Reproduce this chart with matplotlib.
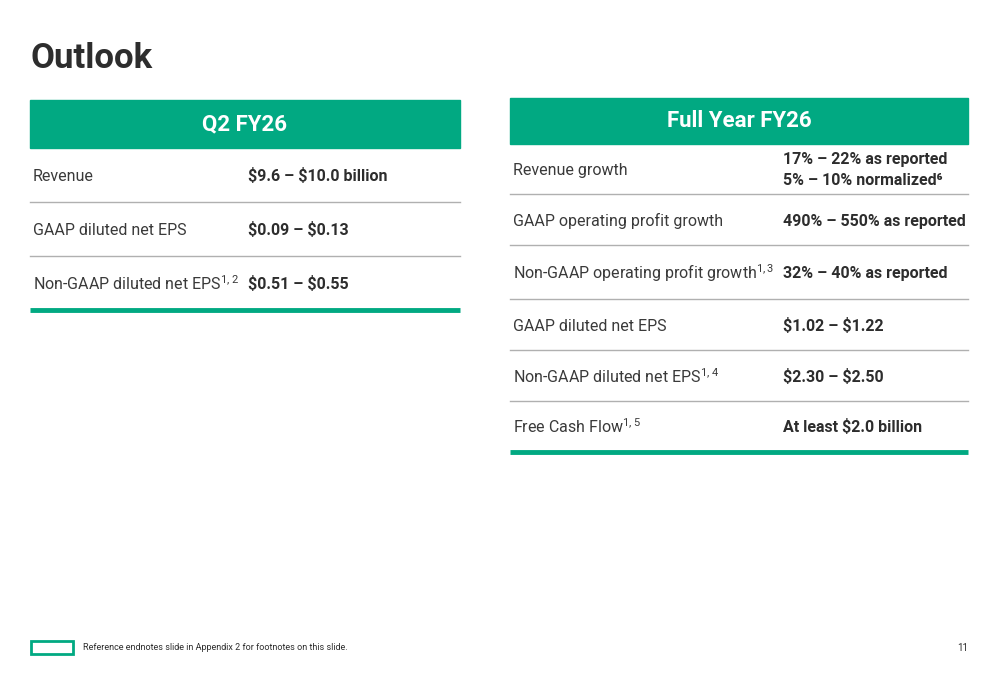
import matplotlib.pyplot as plt
from matplotlib.patches import Rectangle

plt.rcParams['font.family'] = ['Roboto', 'DejaVu Sans']

GREEN = '#01a982'
DARK = '#2d2d2d'
GRAY = '#b0b0b0'

q2_labels = ['Revenue', 'GAAP diluted net EPS', r'Non-GAAP diluted net EPS$^{\mathregular{1,2}}$']
q2_values = ['$9.6 – $10.0 billion', '$0.09 – $0.13', '$0.51 – $0.55']

fy_labels = ['Revenue growth', 'GAAP operating profit growth',
             r'Non-GAAP operating profit growth$^{\mathregular{1,3}}$', 'GAAP diluted net EPS',
             r'Non-GAAP diluted net EPS$^{\mathregular{1,4}}$', r'Free Cash Flow$^{\mathregular{1,5}}$']
fy_values = ['17% – 22% as reported\n5% – 10% normalized⁶', '490% – 550% as reported',
             '32% – 40% as reported', '$1.02 – $1.22', '$2.30 – $2.50', 'At least $2.0 billion']

fig = plt.figure(figsize=(10, 6.85), dpi=100)
ax = fig.add_axes([0, 0, 1, 1])
ax.set_xlim(0, 1000)
ax.set_ylim(685, 0)
ax.axis('off')

ax.text(30, 58, 'Outlook', fontsize=25, fontweight='bold', color=DARK, va='center', ha='left')


def table(x0, x1, top, head_h, title, labels, values, row_ys, line_ys, vx):
    ax.add_patch(Rectangle((x0, top), x1 - x0, head_h, color=GREEN))
    ax.text((x0 + x1) / 2, top + head_h / 2, title, color='white', fontsize=16,
            fontweight='bold', ha='center', va='center')
    for lab, val, y in zip(labels, values, row_ys):
        ax.text(x0 + 3, y, lab, fontsize=11.5, color='#3a3a3a', va='center', ha='left')
        ax.text(vx, y, val, fontsize=11.5, color=DARK, va='center', ha='left', fontweight='bold',
                linespacing=1.5, parse_math=False)
    for y in line_ys[:-1]:
        ax.plot([x0, x1], [y, y], color=GRAY, lw=1)
    ax.plot([x0, x1], [line_ys[-1]] * 2, color=GREEN, lw=3.5, solid_capstyle='butt')


table(30, 460, 100, 48, 'Q2 FY26', q2_labels, q2_values,
      [176, 230, 284], [202, 256, 310], 248)
table(510, 968, 98, 46, 'Full Year FY26', fy_labels, fy_values,
      [170, 221, 273, 326, 377, 427], [194, 245, 299, 350, 401, 452], 783)

ax.add_patch(Rectangle((31, 641), 42, 13, fill=False, edgecolor=GREEN, lw=2))
ax.text(83, 648, 'Reference endnotes slide in Appendix 2 for footnotes on this slide.',
        fontsize=6.5, color=DARK, va='center', ha='left')
ax.text(968, 648, '11', fontsize=7, color=DARK, va='center', ha='right')

fig.savefig('out.png', dpi=100)
